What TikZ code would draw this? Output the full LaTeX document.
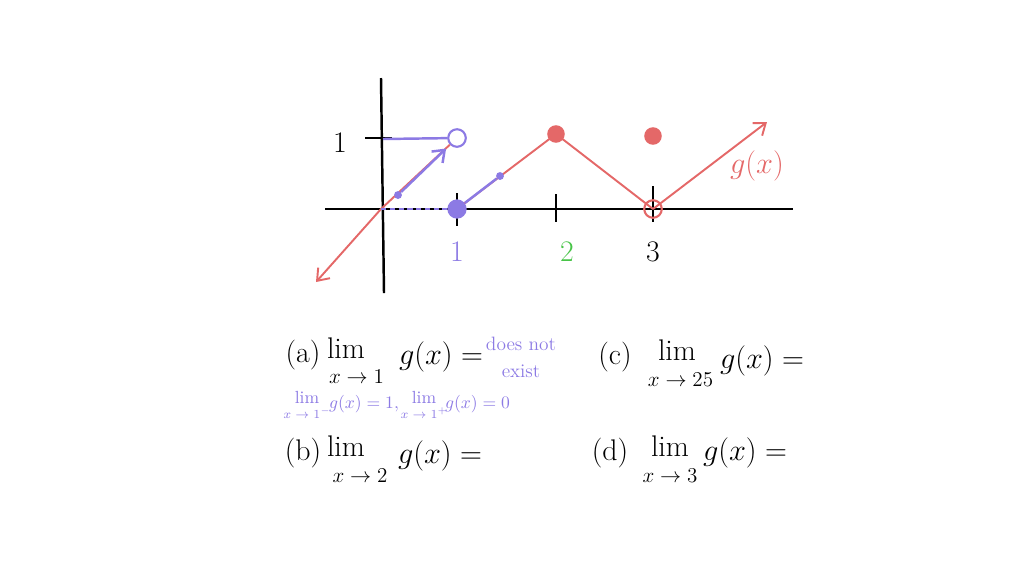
\documentclass[tikz,border=0pt]{standalone}
\usepackage{amsmath}
\usepackage{amssymb}
\usepackage{xcolor}
\usepackage{tikz}
\usetikzlibrary{arrows.meta,positioning}
\definecolor{penred}{RGB}{228,104,104}
\definecolor{penblue}{RGB}{140,122,228}
\definecolor{pengreen}{RGB}{72,196,72}

\begin{document}
\begin{tikzpicture}[
x=0.02cm,y=-0.02cm,
font=\fontsize{17}{20}\selectfont,
every node/.style={inner sep=1pt},
axis/.style={line width=1.4pt,black},
redline/.style={line width=1.1pt,penred},
blueline/.style={line width=1.4pt,penblue},
hollow/.style={circle,draw=#1,line width=1.2pt,fill=white,inner sep=0pt,minimum size=10pt},
fulldot/.style={circle,fill=#1,inner sep=0pt,minimum size=10pt},
tinydot/.style={circle,fill=penblue,inner sep=0pt,minimum size=4.5pt},
small/.style={font=\fontsize{13}{15}\selectfont},
note/.style={font=\fontsize{11}{11}\selectfont,penblue},
tinynote/.style={font=\fontsize{7}{7}\selectfont,penblue,inner sep=0pt},
>={Straight Barb[length=6pt,width=9pt]}]
    \useasboundingbox (0,0) rectangle (1024,576);

    % Draw axes
    \draw[axis] (381,78) -- (384,293);
    \draw[axis] (325,209) -- (793,209);
    \draw[axis] (365,138) -- (392,138);
    \node (ylab) at (340,143) {1};

    \coordinate (O) at (381,209);
    \coordinate (W) at (316,282);
    \coordinate (E) at (767,122);

    % ticks
    \draw[axis] (457,193) -- (457,226);
    \draw[axis] (556,194) -- (556,222);
    \draw[axis] (653,186) -- (653,222);
    \node[penblue] (t1) at (457,252) {1};
    \node[pengreen] (t2) at (567,252) {2};
    \node (t3) at (653,252) {3};

    % the graph of g
    \node[hollow=penblue] (hole1) at (457,138) {};
    \node[fulldot=penred] (top2) at (556,134) {};
    \node[fulldot=penred] (pt3) at (653,136) {};
    \draw[redline,<-] (W) -- (O) -- (hole1);
    \draw[redline] (457,209) -- (top2.center) -- (653,209);
    \draw[redline,->] (653,209) -- (E);
    \node[hollow=penred,fill=none] (hole3) at (653,209) {};
    \node[penred] (glab) at (757,166) {$g(x)$};

    % limits traced in blue
    \node[tinydot] (b1) at (398,195) {};
    \node[tinydot] (b2) at (500,176) {};
    \node[fulldot=penblue,minimum size=11pt] (one) at (457,209) {};
    \draw[blueline,->,shorten >=3pt] (b1) -- (hole1);
    \draw[blueline] (one) -- (b2);
    \draw[blueline] (383,139) -- (hole1);
    \draw[blueline,densely dashed,line width=1.1pt] (O) -- (one);

    % questions
    \node (qa) at (303,355) {(a)};
    \node (limA) at (346,348) {lim};
    \node[small,below=4pt of limA,xshift=6pt] (subA) {$x\to 1$};
    \node (gA) at (441,357) {$g(x) =$};
    \node[note] (dneA) at (521,344) {does not};
    \node[note] (dneB) at (521,371) {exist};

    % one-sided limits
    \node[note,font=\fontsize{10}{10}\selectfont] (limL) at (307,397) {lim};
    \node[tinynote,below=1pt of limL] (subL) {$x\to1^-$};
    \node[note,font=\fontsize{10}{10}\selectfont,anchor=west] (valL) at (327,404) {$g(x)=1,$};
    \node[note,font=\fontsize{10}{10}\selectfont] (limR) at (424,397) {lim};
    \node[tinynote,below=1pt of limR] (subR) {$x\to1^+$};
    \node[note,font=\fontsize{10}{10}\selectfont,anchor=west] (valR) at (443,404) {$g(x)=0$};

    \node (qb) at (303,453) {(b)};
    \node (limB) at (346,446) {lim};
    \node[small,below=5pt of limB,xshift=8pt] (subB) {$x\to 2$};
    \node (gB) at (440,456) {$g(x) =$};

    \node (qc) at (615,357) {(c)};
    \node (limC) at (677,350) {lim};
    \node[small,below=5pt of limC,xshift=2pt] (subC) {$x\to 25$};
    \node (gC) at (762,361) {$g(x) =$};

    \node (qd) at (610,453) {(d)};
    \node (limD) at (670,446) {lim};
    \node[small,below=5pt of limD] (subD) {$x\to 3$};
    \node (gD) at (745,453) {$g(x) =$};
\end{tikzpicture}
\end{document}
